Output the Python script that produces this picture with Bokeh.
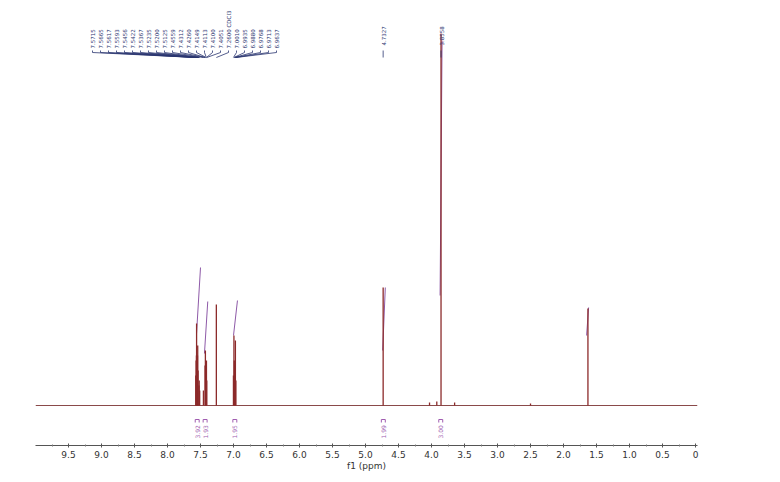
from math import pi
from bokeh.plotting import figure
from bokeh.models import FixedTicker
from bokeh.core.properties import value
from bokeh.embed import file_html
from bokeh.resources import INLINE

# ---- data ----
peak_ppm = [7.5715, 7.5665, 7.5617, 7.5593, 7.5456, 7.5422, 7.5367, 7.5235, 7.5200, 7.5125,
            7.4559, 7.4312, 7.4260, 7.4149, 7.4113, 7.4100, 7.4051,
            7.2600,
            7.0010, 6.9935, 6.9880, 6.9768, 6.9713, 6.9637,
            4.7327, 3.8558, 1.6300,
            4.0300, 3.9200, 3.6500, 2.5000]
peak_int = [30, 45, 50, 82, 50, 60, 35, 20, 25, 15,
            15, 40, 55, 30, 35, 45, 25,
            101,
            30, 70, 45, 40, 65, 25,
            118, 372, 97,
            3, 4, 3, 2]

label_ppm = [7.5715, 7.5665, 7.5617, 7.5593, 7.5456, 7.5422, 7.5367, 7.5235, 7.5200, 7.5125,
             7.4559, 7.4312, 7.4260, 7.4149, 7.4113, 7.4100, 7.4051, 7.2600,
             7.0010, 6.9935, 6.9880, 6.9768, 6.9713, 6.9637]
label_txt = ["7.5715", "7.5665", "7.5617", "7.5593", "7.5456", "7.5422", "7.5367", "7.5235",
             "7.5200", "7.5125", "7.4559", "7.4312", "7.4260", "7.4149", "7.4113", "7.4100",
             "7.4051", "7.2600 CDCl3", "7.0010", "6.9935", "6.9880", "6.9768", "6.9713", "6.9637"]
single_label_ppm = [4.7327, 3.8558]
single_label_txt = ["4.7327", "3.8558"]

int_start = [7.56, 7.44, 7.00, 4.74, 3.87, 1.65]
int_end = [7.50, 7.39, 6.94, 4.70, 3.84, 1.62]
int_y0 = [72, 52, 70, 55, 110, 70]
int_y1 = [138, 104, 105, 118, 365, 98]

int_lab_ppm = [7.55, 7.43, 6.98, 4.73, 3.86]
int_lab_txt = ["3.92", "1.93", "1.95", "1.99", "3.00"]

xticks = [0, 0.5, 1.0, 1.5, 2.0, 2.5, 3.0, 3.5, 4.0, 4.5, 5.0, 5.5, 6.0, 6.5, 7.0, 7.5, 8.0, 8.5, 9.0, 9.5]
xtick_labels = ["0", "0.5", "1.0", "1.5", "2.0", "2.5", "3.0", "3.5", "4.0", "4.5", "5.0", "5.5",
                "6.0", "6.5", "7.0", "7.5", "8.0", "8.5", "9.0", "9.5"]
minor = [0.25 + 0.5 * i for i in range(20)]

# ---- figure ----
p = figure(width=772, height=474, x_range=(10.0, -0.03), y_range=(-40, 405),
           output_backend="svg", toolbar_location=None,
           min_border_left=35, min_border_right=75, min_border_top=0, min_border_bottom=29)
p.yaxis.visible = False
p.xgrid.visible = False
p.ygrid.visible = False
p.outline_line_color = None
p.background_fill_color = "white"
p.border_fill_color = "white"

ax = p.xaxis[0]
ax.ticker = FixedTicker(ticks=xticks, minor_ticks=minor)
ax.major_label_overrides = {t: s for t, s in zip(xticks, xtick_labels)}
ax.axis_label = "f1 (ppm)"
ax.axis_label_text_font = "DejaVu Sans"
ax.axis_label_text_font_size = "9px"
ax.axis_label_text_font_style = "normal"
ax.axis_label_text_color = "#333333"
ax.axis_label_standoff = 0
ax.major_label_text_font = "DejaVu Sans"
ax.major_label_text_font_size = "9px"
ax.major_label_text_color = "#333333"
ax.major_label_standoff = 3
ax.axis_line_color = "#555555"
ax.major_tick_line_color = "#555555"
ax.minor_tick_line_color = "#777777"
ax.major_tick_in = 2
ax.major_tick_out = 2
ax.minor_tick_in = 1
ax.minor_tick_out = 1

spec_color = "#8c2a2a"

# integral curves (under the spectrum)
p.segment(x0=int_start, y0=int_y0, x1=int_end, y1=int_y1, line_color="#8e5aa8", line_width=1)

# baseline
p.line([10.0, -0.03], [0, 0], line_color="#8a4a4a", line_width=1)
# peaks
p.segment(x0=peak_ppm, y0=[0] * len(peak_ppm), x1=peak_ppm, y1=peak_int,
          line_color=spec_color, line_width=1.3)

# integral labels
int_color = "#a05cb0"
br_half = 0.03
p.segment(x0=[v + br_half for v in int_lab_ppm], y0=[-14] * 5,
          x1=[v - br_half for v in int_lab_ppm], y1=[-14] * 5, line_color=int_color, line_width=1)
p.segment(x0=[v + br_half for v in int_lab_ppm], y0=[-14] * 5,
          x1=[v + br_half for v in int_lab_ppm], y1=[-17] * 5, line_color=int_color, line_width=1)
p.segment(x0=[v - br_half for v in int_lab_ppm], y0=[-14] * 5,
          x1=[v - br_half for v in int_lab_ppm], y1=[-17] * 5, line_color=int_color, line_width=1)
p.text(x=int_lab_ppm, y=[-33] * 5, text=int_lab_txt, angle=pi / 2,
       text_align="left", text_baseline="middle", text_font=value("DejaVu Sans"),
       text_font_size="6px", text_color=int_color)

# peak labels (spread layout)
lab_color = "#2a3570"
n = len(label_ppm)
left_ppm = (695 - 92) / 66.0
right_ppm = (695 - 276) / 66.0
step = (left_ppm - right_ppm) / (n - 1)
lab_pos = [left_ppm - i * step for i in range(n)]
xs = [[lp, lp, pk] for lp, pk in zip(lab_pos, label_ppm)]
ys = [[355, 353, 348] for _ in range(n)]
p.multi_line(xs=xs, ys=ys, line_color=lab_color, line_width=0.8)
p.text(x=lab_pos, y=[357] * n, text=label_txt, angle=pi / 2, text_align="left",
       text_baseline="middle", text_font=value("DejaVu Sans"), text_font_size="5.5px",
       text_color=lab_color)

p.segment(x0=single_label_ppm, y0=[355, 355], x1=single_label_ppm, y1=[348, 348],
          line_color=lab_color, line_width=0.8)
p.text(x=single_label_ppm, y=[360, 360], text=single_label_txt, angle=pi / 2,
       text_align="left", text_baseline="middle", text_font=value("DejaVu Sans"),
       text_font_size="5.5px", text_color=lab_color)

open("out.html", "w").write(file_html(p, INLINE))
